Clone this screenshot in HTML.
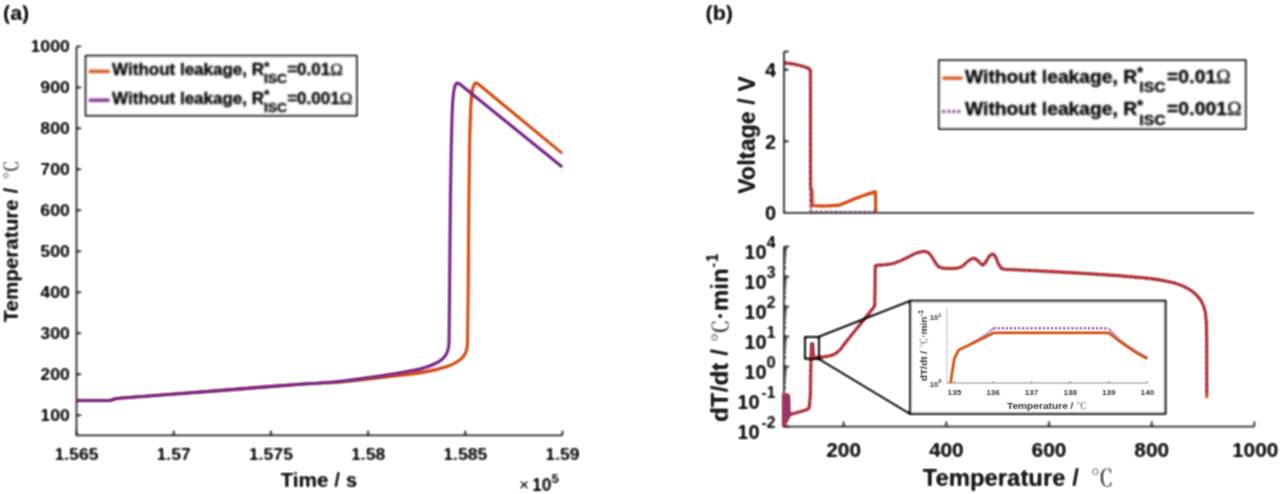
<!DOCTYPE html>
<html lang="en"><head><meta charset="utf-8"><title>Figure</title>
<style>html,body{margin:0;padding:0;background:#fff;}body{width:1280px;height:494px;overflow:hidden;}svg{display:block;}</style>
</head><body>
<svg width="1280" height="494" viewBox="0 0 1280 494">
<defs><filter id="b" x="-1%" y="-1%" width="102%" height="102%" color-interpolation-filters="sRGB"><feGaussianBlur stdDeviation="0.85"/><feComponentTransfer><feFuncA type="linear" slope="1.4" intercept="-0.1"/></feComponentTransfer></filter><filter id="b3" x="-1%" y="-1%" width="102%" height="102%" color-interpolation-filters="sRGB"><feConvolveMatrix order="3" kernelMatrix="0.04 0.12 0.04 0.12 0.36 0.12 0.04 0.12 0.04" divisor="1" edgeMode="none" preserveAlpha="false"/></filter><filter id="b2" x="-2%" y="-5%" width="104%" height="110%" color-interpolation-filters="sRGB"><feGaussianBlur stdDeviation="0.8"/></filter></defs>
<rect x="0" y="0" width="1280" height="494" fill="#ffffff"/>
<g filter="url(#b)">
<g id="panel-a">
<text transform="translate(3,19.5) scale(1.05,1)" font-size="20.5" font-family="Liberation Sans, Arial, sans-serif" font-weight="bold" fill="#262626">(a)</text>
<path d="M76.5,46.4 V435.3 H562.5" fill="none" stroke="#3a3a3a" stroke-width="1.8"/>
<line x1="76.5" y1="415.2" x2="81.5" y2="415.2" stroke="#3a3a3a" stroke-width="1.8"/>
<text transform="translate(69.8,421.0) scale(1.04,1)" font-size="17" text-anchor="end" font-family="Liberation Sans, Arial, sans-serif" font-weight="bold" fill="#262626">100</text>
<line x1="76.5" y1="374.2" x2="81.5" y2="374.2" stroke="#3a3a3a" stroke-width="1.8"/>
<text transform="translate(69.8,380.0) scale(1.04,1)" font-size="17" text-anchor="end" font-family="Liberation Sans, Arial, sans-serif" font-weight="bold" fill="#262626">200</text>
<line x1="76.5" y1="333.2" x2="81.5" y2="333.2" stroke="#3a3a3a" stroke-width="1.8"/>
<text transform="translate(69.8,339.0) scale(1.04,1)" font-size="17" text-anchor="end" font-family="Liberation Sans, Arial, sans-serif" font-weight="bold" fill="#262626">300</text>
<line x1="76.5" y1="292.3" x2="81.5" y2="292.3" stroke="#3a3a3a" stroke-width="1.8"/>
<text transform="translate(69.8,298.1) scale(1.04,1)" font-size="17" text-anchor="end" font-family="Liberation Sans, Arial, sans-serif" font-weight="bold" fill="#262626">400</text>
<line x1="76.5" y1="251.3" x2="81.5" y2="251.3" stroke="#3a3a3a" stroke-width="1.8"/>
<text transform="translate(69.8,257.1) scale(1.04,1)" font-size="17" text-anchor="end" font-family="Liberation Sans, Arial, sans-serif" font-weight="bold" fill="#262626">500</text>
<line x1="76.5" y1="210.3" x2="81.5" y2="210.3" stroke="#3a3a3a" stroke-width="1.8"/>
<text transform="translate(69.8,216.1) scale(1.04,1)" font-size="17" text-anchor="end" font-family="Liberation Sans, Arial, sans-serif" font-weight="bold" fill="#262626">600</text>
<line x1="76.5" y1="169.3" x2="81.5" y2="169.3" stroke="#3a3a3a" stroke-width="1.8"/>
<text transform="translate(69.8,175.1) scale(1.04,1)" font-size="17" text-anchor="end" font-family="Liberation Sans, Arial, sans-serif" font-weight="bold" fill="#262626">700</text>
<line x1="76.5" y1="128.3" x2="81.5" y2="128.3" stroke="#3a3a3a" stroke-width="1.8"/>
<text transform="translate(69.8,134.1) scale(1.04,1)" font-size="17" text-anchor="end" font-family="Liberation Sans, Arial, sans-serif" font-weight="bold" fill="#262626">800</text>
<line x1="76.5" y1="87.4" x2="81.5" y2="87.4" stroke="#3a3a3a" stroke-width="1.8"/>
<text transform="translate(69.8,93.2) scale(1.04,1)" font-size="17" text-anchor="end" font-family="Liberation Sans, Arial, sans-serif" font-weight="bold" fill="#262626">900</text>
<line x1="76.5" y1="46.4" x2="81.5" y2="46.4" stroke="#3a3a3a" stroke-width="1.8"/>
<text transform="translate(69.8,52.2) scale(1.04,1)" font-size="17" text-anchor="end" font-family="Liberation Sans, Arial, sans-serif" font-weight="bold" fill="#262626">1000</text>
<line x1="76.5" y1="435.3" x2="76.5" y2="430.3" stroke="#3a3a3a" stroke-width="1.8"/>
<text transform="translate(76.5,460.4) scale(1.04,1)" font-size="17" text-anchor="middle" font-family="Liberation Sans, Arial, sans-serif" font-weight="bold" fill="#262626">1.565</text>
<line x1="173.7" y1="435.3" x2="173.7" y2="430.3" stroke="#3a3a3a" stroke-width="1.8"/>
<text transform="translate(173.7,460.4) scale(1.04,1)" font-size="17" text-anchor="middle" font-family="Liberation Sans, Arial, sans-serif" font-weight="bold" fill="#262626">1.57</text>
<line x1="270.9" y1="435.3" x2="270.9" y2="430.3" stroke="#3a3a3a" stroke-width="1.8"/>
<text transform="translate(270.9,460.4) scale(1.04,1)" font-size="17" text-anchor="middle" font-family="Liberation Sans, Arial, sans-serif" font-weight="bold" fill="#262626">1.575</text>
<line x1="368.1" y1="435.3" x2="368.1" y2="430.3" stroke="#3a3a3a" stroke-width="1.8"/>
<text transform="translate(368.1,460.4) scale(1.04,1)" font-size="17" text-anchor="middle" font-family="Liberation Sans, Arial, sans-serif" font-weight="bold" fill="#262626">1.58</text>
<line x1="465.3" y1="435.3" x2="465.3" y2="430.3" stroke="#3a3a3a" stroke-width="1.8"/>
<text transform="translate(465.3,460.4) scale(1.04,1)" font-size="17" text-anchor="middle" font-family="Liberation Sans, Arial, sans-serif" font-weight="bold" fill="#262626">1.585</text>
<line x1="562.5" y1="435.3" x2="562.5" y2="430.3" stroke="#3a3a3a" stroke-width="1.8"/>
<text transform="translate(562.5,460.4) scale(1.04,1)" font-size="17" text-anchor="middle" font-family="Liberation Sans, Arial, sans-serif" font-weight="bold" fill="#262626">1.59</text>
<text transform="translate(318.9,487.3) scale(1.04,1)" font-size="20" text-anchor="middle" font-family="Liberation Sans, Arial, sans-serif" font-weight="bold" fill="#262626">Time / s</text>
<text x="518.5" y="490.5" font-size="17.5" font-family="Liberation Sans, Arial, sans-serif" font-weight="bold" fill="#262626"><tspan font-weight="normal" font-size="19">×</tspan><tspan dx="2.5">10</tspan><tspan dy="-8" font-size="13.5">5</tspan></text>
<text transform="translate(18.3,322.5) rotate(-90) scale(1.03,1)" font-size="20" font-family="Liberation Sans, Arial, sans-serif" font-weight="bold" fill="#262626">Temperature / <tspan font-family="Noto Serif CJK SC, Liberation Serif, serif" font-weight="normal" font-size="19" dx="2.5">℃</tspan></text>
<path d="M76.50,400.60 C81.42,400.60 100.42,400.65 106.00,400.60 C111.58,400.55 108.67,400.50 110.00,400.30 C111.33,400.10 113.33,399.55 114.00,399.40 L114.00,399.40 C115.08,399.18 110.63,398.97 120.50,398.10 C130.37,397.23 148.18,396.13 173.20,394.20 C198.22,392.27 247.80,388.27 270.60,386.50 C293.40,384.73 298.43,384.35 310.00,383.60 C321.57,382.85 330.28,382.77 340.00,382.00 C349.72,381.23 358.85,380.05 368.30,379.00 C377.75,377.95 387.25,376.87 396.70,375.70 C406.15,374.53 416.52,373.55 425.00,372.00 C433.48,370.45 441.93,368.28 447.60,366.40 C453.27,364.52 456.13,362.67 459.00,360.70 C461.87,358.73 463.47,356.72 464.80,354.60 C466.13,352.48 466.53,350.98 467.00,348.00 C467.47,345.02 467.40,346.37 467.60,336.70 C467.80,327.03 467.98,312.78 468.20,290.00 C468.42,267.22 468.67,224.17 468.90,200.00 C469.13,175.83 469.32,159.73 469.60,145.00 C469.88,130.27 470.27,119.77 470.60,111.60 C470.93,103.43 471.22,99.93 471.60,96.00 C471.98,92.07 472.45,89.97 472.90,88.00 C473.35,86.03 473.80,85.05 474.30,84.20 C474.80,83.35 475.30,82.97 475.90,82.90 C476.50,82.83 477.13,83.32 477.90,83.80 C478.67,84.28 480.07,85.47 480.50,85.80 L562.4,153.5" fill="none" stroke="#D95319" stroke-width="2.8" stroke-linejoin="round" stroke-linecap="butt"/>
<path d="M76.50,400.60 C81.42,400.60 100.42,400.65 106.00,400.60 C111.58,400.55 108.67,400.50 110.00,400.30 C111.33,400.10 113.33,399.55 114.00,399.40 L114.00,399.40 C115.08,399.18 110.63,398.97 120.50,398.10 C130.37,397.23 148.18,396.13 173.20,394.20 C198.22,392.27 247.80,388.27 270.60,386.50 C293.40,384.73 298.43,384.45 310.00,383.60 C321.57,382.75 330.28,382.38 340.00,381.40 C349.72,380.42 358.85,379.02 368.30,377.70 C377.75,376.38 388.20,374.92 396.70,373.50 C405.20,372.08 413.17,370.72 419.30,369.20 C425.43,367.68 429.72,366.05 433.50,364.40 C437.28,362.75 439.82,361.10 442.00,359.30 C444.18,357.50 445.50,355.72 446.60,353.60 C447.70,351.48 448.18,349.42 448.60,346.60 C449.02,343.78 448.93,346.13 449.10,336.70 C449.27,327.27 449.38,312.78 449.60,290.00 C449.82,267.22 450.12,224.17 450.40,200.00 C450.68,175.83 451.00,159.73 451.30,145.00 C451.60,130.27 451.88,119.77 452.20,111.60 C452.52,103.43 452.83,99.93 453.20,96.00 C453.57,92.07 453.98,89.97 454.40,88.00 C454.82,86.03 455.22,85.05 455.70,84.20 C456.18,83.35 456.70,82.97 457.30,82.90 C457.90,82.83 458.52,83.32 459.30,83.80 C460.08,84.28 461.55,85.47 462.00,85.80 L562.4,167.1" fill="none" stroke="#7E2F8E" stroke-width="2.8" stroke-linejoin="round" stroke-linecap="butt"/>
<rect x="85.5" y="55.6" width="271.4" height="60.2" fill="#fff" stroke="#3a3a3a" stroke-width="1.8"/>
<line x1="88.8" y1="71.4" x2="109.6" y2="71.4" stroke="#D95319" stroke-width="3.3"/>
<line x1="88.8" y1="100.2" x2="109.6" y2="100.2" stroke="#7E2F8E" stroke-width="3.3"/>
<text transform="translate(112.1,75.3) scale(1.070,1)" font-size="15.9" font-family="Liberation Sans, Arial, sans-serif" font-weight="bold" fill="#000" stroke="#000" stroke-width="0.3">Without leakage, R<tspan font-size="13.0" dy="-4.8">*</tspan><tspan font-size="13.0" dx="-5.1" dy="12.7">ISC</tspan><tspan dx="0.0" dy="-8.0" letter-spacing="0.00">=0.01</tspan><tspan font-family="Liberation Serif, serif" font-weight="normal" stroke-width="0.35">Ω</tspan></text>
<text transform="translate(112.1,104.2) scale(1.070,1)" font-size="15.9" font-family="Liberation Sans, Arial, sans-serif" font-weight="bold" fill="#000" stroke="#000" stroke-width="0.3">Without leakage, R<tspan font-size="13.0" dy="-4.8">*</tspan><tspan font-size="13.0" dx="-5.1" dy="12.7">ISC</tspan><tspan dx="0.0" dy="-8.0" letter-spacing="0.00">=0.001</tspan><tspan font-family="Liberation Serif, serif" font-weight="normal" stroke-width="0.35">Ω</tspan></text>
</g>
<g id="panel-b">
<text transform="translate(705.5,19.5) scale(1.05,1)" font-size="20.5" font-family="Liberation Sans, Arial, sans-serif" font-weight="bold" fill="#262626">(b)</text>
<path d="M784.0,51.5 V212.9 H1254.4" fill="none" stroke="#3a3a3a" stroke-width="1.8"/>
<line x1="784.0" y1="51.5" x2="789.0" y2="51.5" stroke="#3a3a3a" stroke-width="1.8"/>
<text x="776" y="220.1" font-size="20" text-anchor="end" font-family="Liberation Sans, Arial, sans-serif" font-weight="bold" fill="#262626">0</text>
<line x1="784.0" y1="141.3" x2="789.0" y2="141.3" stroke="#3a3a3a" stroke-width="1.8"/>
<text x="776" y="148.5" font-size="20" text-anchor="end" font-family="Liberation Sans, Arial, sans-serif" font-weight="bold" fill="#262626">2</text>
<line x1="784.0" y1="69.7" x2="789.0" y2="69.7" stroke="#3a3a3a" stroke-width="1.8"/>
<text x="776" y="76.9" font-size="20" text-anchor="end" font-family="Liberation Sans, Arial, sans-serif" font-weight="bold" fill="#262626">4</text>
<text transform="translate(755.0,194) rotate(-90)" font-size="23.4" font-family="Liberation Sans, Arial, sans-serif" font-weight="bold" fill="#262626">Voltage / V</text>
<g>
<polyline points="784.0,62.7 795.0,64.3 804.0,66.6 809.3,68.6 810.4,70.5 810.6,188.0 811.9,190.0 812.1,204.0 813.0,205.6 820.0,206.0 830.0,205.8 839.3,205.2 845.0,202.8 855.0,198.6 865.0,195.0 875.5,191.6 875.7,212.9" fill="none" stroke="#D95319" stroke-width="2.9" stroke-linejoin="round"/>
<polyline points="784.0,62.7 795.0,64.3 804.0,66.6 809.3,68.6 810.4,70.5 810.6,211.0" fill="none" stroke="#B22C48" stroke-width="2.2" stroke-linejoin="round" opacity="0.42"/>
<polyline points="784.0,62.7 795.0,64.3 804.0,66.6 809.3,68.6 810.4,70.5 810.6,211.0" fill="none" stroke="#7E2F8E" stroke-width="2.4" stroke-dasharray="2.8 2.8" stroke-linejoin="round" opacity="0.7"/>
<polyline points="810.6,211.0 875.7,211.3" fill="none" stroke="#7E2F8E" stroke-width="2" stroke-dasharray="2.4 2.4" stroke-linejoin="round" opacity="0.55"/>
</g>
<rect x="938.8" y="60.1" width="307" height="69" fill="#fff" stroke="#3a3a3a" stroke-width="1.8"/>
<line x1="942.5" y1="78.2" x2="962.6" y2="78.2" stroke="#D95319" stroke-width="3.3"/>
<line x1="942.5" y1="111.5" x2="962.6" y2="111.5" stroke="#7E2F8E" stroke-width="2.8" stroke-dasharray="2.6 2.4"/>
<text transform="translate(965.1,82.8) scale(1.058,1)" font-size="18.2" font-family="Liberation Sans, Arial, sans-serif" font-weight="bold" fill="#000" stroke="#000" stroke-width="0.3">Without leakage, R<tspan font-size="14.9" dy="-5.5">*</tspan><tspan font-size="14.9" dx="-3.6" dy="14.6">ISC</tspan><tspan dx="1.2" dy="-9.1" letter-spacing="0.15">=0.01</tspan><tspan font-family="Liberation Serif, serif" font-weight="normal" stroke-width="0.35">Ω</tspan></text>
<text transform="translate(965.1,115.4) scale(1.058,1)" font-size="18.2" font-family="Liberation Sans, Arial, sans-serif" font-weight="bold" fill="#000" stroke="#000" stroke-width="0.3">Without leakage, R<tspan font-size="14.9" dy="-5.5">*</tspan><tspan font-size="14.9" dx="-3.6" dy="14.6">ISC</tspan><tspan dx="1.2" dy="-9.1" letter-spacing="0.15">=0.001</tspan><tspan font-family="Liberation Serif, serif" font-weight="normal" stroke-width="0.35">Ω</tspan></text>
<path d="M784.0,246.6 V426.6 H1254.4" fill="none" stroke="#3a3a3a" stroke-width="1.8"/>
<line x1="784.0" y1="426.6" x2="789.5" y2="426.6" stroke="#3a3a3a" stroke-width="1.8"/>
<text x="775.8" y="439.0" font-size="20" text-anchor="end" font-family="Liberation Sans, Arial, sans-serif" font-weight="bold" fill="#262626">10<tspan font-size="16.5" dy="-10.9" dx="1.6">-2</tspan></text>
<line x1="784.0" y1="417.6" x2="787.0" y2="417.6" stroke="#3a3a3a" stroke-width="1"/>
<line x1="784.0" y1="412.3" x2="787.0" y2="412.3" stroke="#3a3a3a" stroke-width="1"/>
<line x1="784.0" y1="408.5" x2="787.0" y2="408.5" stroke="#3a3a3a" stroke-width="1"/>
<line x1="784.0" y1="405.6" x2="787.0" y2="405.6" stroke="#3a3a3a" stroke-width="1"/>
<line x1="784.0" y1="403.3" x2="787.0" y2="403.3" stroke="#3a3a3a" stroke-width="1"/>
<line x1="784.0" y1="401.2" x2="787.0" y2="401.2" stroke="#3a3a3a" stroke-width="1"/>
<line x1="784.0" y1="399.5" x2="787.0" y2="399.5" stroke="#3a3a3a" stroke-width="1"/>
<line x1="784.0" y1="398.0" x2="787.0" y2="398.0" stroke="#3a3a3a" stroke-width="1"/>
<line x1="784.0" y1="396.6" x2="789.5" y2="396.6" stroke="#3a3a3a" stroke-width="1.8"/>
<text x="775.8" y="409.0" font-size="20" text-anchor="end" font-family="Liberation Sans, Arial, sans-serif" font-weight="bold" fill="#262626">10<tspan font-size="16.5" dy="-10.9" dx="1.6">-1</tspan></text>
<line x1="784.0" y1="387.6" x2="787.0" y2="387.6" stroke="#3a3a3a" stroke-width="1"/>
<line x1="784.0" y1="382.3" x2="787.0" y2="382.3" stroke="#3a3a3a" stroke-width="1"/>
<line x1="784.0" y1="378.5" x2="787.0" y2="378.5" stroke="#3a3a3a" stroke-width="1"/>
<line x1="784.0" y1="375.6" x2="787.0" y2="375.6" stroke="#3a3a3a" stroke-width="1"/>
<line x1="784.0" y1="373.3" x2="787.0" y2="373.3" stroke="#3a3a3a" stroke-width="1"/>
<line x1="784.0" y1="371.2" x2="787.0" y2="371.2" stroke="#3a3a3a" stroke-width="1"/>
<line x1="784.0" y1="369.5" x2="787.0" y2="369.5" stroke="#3a3a3a" stroke-width="1"/>
<line x1="784.0" y1="368.0" x2="787.0" y2="368.0" stroke="#3a3a3a" stroke-width="1"/>
<line x1="784.0" y1="366.6" x2="789.5" y2="366.6" stroke="#3a3a3a" stroke-width="1.8"/>
<text x="775.8" y="379.0" font-size="20" text-anchor="end" font-family="Liberation Sans, Arial, sans-serif" font-weight="bold" fill="#262626">10<tspan font-size="16.5" dy="-10.9" dx="0">0</tspan></text>
<line x1="784.0" y1="357.6" x2="787.0" y2="357.6" stroke="#3a3a3a" stroke-width="1"/>
<line x1="784.0" y1="352.3" x2="787.0" y2="352.3" stroke="#3a3a3a" stroke-width="1"/>
<line x1="784.0" y1="348.5" x2="787.0" y2="348.5" stroke="#3a3a3a" stroke-width="1"/>
<line x1="784.0" y1="345.6" x2="787.0" y2="345.6" stroke="#3a3a3a" stroke-width="1"/>
<line x1="784.0" y1="343.3" x2="787.0" y2="343.3" stroke="#3a3a3a" stroke-width="1"/>
<line x1="784.0" y1="341.2" x2="787.0" y2="341.2" stroke="#3a3a3a" stroke-width="1"/>
<line x1="784.0" y1="339.5" x2="787.0" y2="339.5" stroke="#3a3a3a" stroke-width="1"/>
<line x1="784.0" y1="338.0" x2="787.0" y2="338.0" stroke="#3a3a3a" stroke-width="1"/>
<line x1="784.0" y1="336.6" x2="789.5" y2="336.6" stroke="#3a3a3a" stroke-width="1.8"/>
<text x="775.8" y="349.0" font-size="20" text-anchor="end" font-family="Liberation Sans, Arial, sans-serif" font-weight="bold" fill="#262626">10<tspan font-size="16.5" dy="-10.9" dx="0">1</tspan></text>
<line x1="784.0" y1="327.6" x2="787.0" y2="327.6" stroke="#3a3a3a" stroke-width="1"/>
<line x1="784.0" y1="322.3" x2="787.0" y2="322.3" stroke="#3a3a3a" stroke-width="1"/>
<line x1="784.0" y1="318.5" x2="787.0" y2="318.5" stroke="#3a3a3a" stroke-width="1"/>
<line x1="784.0" y1="315.6" x2="787.0" y2="315.6" stroke="#3a3a3a" stroke-width="1"/>
<line x1="784.0" y1="313.3" x2="787.0" y2="313.3" stroke="#3a3a3a" stroke-width="1"/>
<line x1="784.0" y1="311.2" x2="787.0" y2="311.2" stroke="#3a3a3a" stroke-width="1"/>
<line x1="784.0" y1="309.5" x2="787.0" y2="309.5" stroke="#3a3a3a" stroke-width="1"/>
<line x1="784.0" y1="308.0" x2="787.0" y2="308.0" stroke="#3a3a3a" stroke-width="1"/>
<line x1="784.0" y1="306.6" x2="789.5" y2="306.6" stroke="#3a3a3a" stroke-width="1.8"/>
<text x="775.8" y="319.0" font-size="20" text-anchor="end" font-family="Liberation Sans, Arial, sans-serif" font-weight="bold" fill="#262626">10<tspan font-size="16.5" dy="-10.9" dx="0">2</tspan></text>
<line x1="784.0" y1="297.6" x2="787.0" y2="297.6" stroke="#3a3a3a" stroke-width="1"/>
<line x1="784.0" y1="292.3" x2="787.0" y2="292.3" stroke="#3a3a3a" stroke-width="1"/>
<line x1="784.0" y1="288.5" x2="787.0" y2="288.5" stroke="#3a3a3a" stroke-width="1"/>
<line x1="784.0" y1="285.6" x2="787.0" y2="285.6" stroke="#3a3a3a" stroke-width="1"/>
<line x1="784.0" y1="283.3" x2="787.0" y2="283.3" stroke="#3a3a3a" stroke-width="1"/>
<line x1="784.0" y1="281.2" x2="787.0" y2="281.2" stroke="#3a3a3a" stroke-width="1"/>
<line x1="784.0" y1="279.5" x2="787.0" y2="279.5" stroke="#3a3a3a" stroke-width="1"/>
<line x1="784.0" y1="278.0" x2="787.0" y2="278.0" stroke="#3a3a3a" stroke-width="1"/>
<line x1="784.0" y1="276.6" x2="789.5" y2="276.6" stroke="#3a3a3a" stroke-width="1.8"/>
<text x="775.8" y="289.0" font-size="20" text-anchor="end" font-family="Liberation Sans, Arial, sans-serif" font-weight="bold" fill="#262626">10<tspan font-size="16.5" dy="-10.9" dx="0">3</tspan></text>
<line x1="784.0" y1="267.6" x2="787.0" y2="267.6" stroke="#3a3a3a" stroke-width="1"/>
<line x1="784.0" y1="262.3" x2="787.0" y2="262.3" stroke="#3a3a3a" stroke-width="1"/>
<line x1="784.0" y1="258.5" x2="787.0" y2="258.5" stroke="#3a3a3a" stroke-width="1"/>
<line x1="784.0" y1="255.6" x2="787.0" y2="255.6" stroke="#3a3a3a" stroke-width="1"/>
<line x1="784.0" y1="253.3" x2="787.0" y2="253.3" stroke="#3a3a3a" stroke-width="1"/>
<line x1="784.0" y1="251.2" x2="787.0" y2="251.2" stroke="#3a3a3a" stroke-width="1"/>
<line x1="784.0" y1="249.5" x2="787.0" y2="249.5" stroke="#3a3a3a" stroke-width="1"/>
<line x1="784.0" y1="248.0" x2="787.0" y2="248.0" stroke="#3a3a3a" stroke-width="1"/>
<line x1="784.0" y1="246.6" x2="789.5" y2="246.6" stroke="#3a3a3a" stroke-width="1.8"/>
<text x="775.8" y="259.0" font-size="20" text-anchor="end" font-family="Liberation Sans, Arial, sans-serif" font-weight="bold" fill="#262626">10<tspan font-size="16.5" dy="-10.9" dx="0">4</tspan></text>
<line x1="843.6" y1="426.6" x2="843.6" y2="421.1" stroke="#3a3a3a" stroke-width="1.8"/>
<text transform="translate(843.6,457) scale(1.045,1)" font-size="20" text-anchor="middle" font-family="Liberation Sans, Arial, sans-serif" font-weight="bold" fill="#262626">200</text>
<line x1="946.3" y1="426.6" x2="946.3" y2="421.1" stroke="#3a3a3a" stroke-width="1.8"/>
<text transform="translate(946.3,457) scale(1.045,1)" font-size="20" text-anchor="middle" font-family="Liberation Sans, Arial, sans-serif" font-weight="bold" fill="#262626">400</text>
<line x1="1049.0" y1="426.6" x2="1049.0" y2="421.1" stroke="#3a3a3a" stroke-width="1.8"/>
<text transform="translate(1049.0,457) scale(1.045,1)" font-size="20" text-anchor="middle" font-family="Liberation Sans, Arial, sans-serif" font-weight="bold" fill="#262626">600</text>
<line x1="1151.7" y1="426.6" x2="1151.7" y2="421.1" stroke="#3a3a3a" stroke-width="1.8"/>
<text transform="translate(1151.7,457) scale(1.045,1)" font-size="20" text-anchor="middle" font-family="Liberation Sans, Arial, sans-serif" font-weight="bold" fill="#262626">800</text>
<line x1="1254.4" y1="426.6" x2="1254.4" y2="421.1" stroke="#3a3a3a" stroke-width="1.8"/>
<text transform="translate(1255.2,457) scale(1.045,1)" font-size="20" text-anchor="middle" font-family="Liberation Sans, Arial, sans-serif" font-weight="bold" fill="#262626">1000</text>
<text x="922.6" y="486.4" font-size="23.9" font-family="Liberation Sans, Arial, sans-serif" font-weight="bold" fill="#262626">Temperature / <tspan font-family="Noto Serif CJK SC, Liberation Serif, serif" font-weight="normal" font-size="23" dx="5">℃</tspan></text>
<text transform="translate(727.6,422) rotate(-90) scale(1.04,1)" font-size="23.4" font-family="Liberation Sans, Arial, sans-serif" font-weight="bold" fill="#262626">dT/dt / <tspan font-family="Noto Serif CJK SC, Liberation Serif, serif" font-weight="normal" font-size="22">℃</tspan>·min<tspan font-size="16" dy="-10">-1</tspan></text>
<g>
<polyline points="783.5,426.6 783.4,394.5 784.0,426.0 784.7,395.7 785.3,423.5 786.0,396.9 786.6,421.1 787.3,394.5 787.9,418.6 788.6,395.7 789.2,416.1 789.6,414.7 795.0,413.2 802.0,411.2 807.0,409.6 809.3,407.8 810.3,395.0 811.0,360.0 811.6,343.6 812.2,350.0 812.6,343.5 813.1,352.0 813.6,357.8 815.0,357.9 819.0,357.6 827.4,356.3 833.0,355.0 837.1,352.5 840.6,349.3 843.6,345.0 851.0,335.7 859.8,324.8 866.0,317.0 872.7,308.6 874.7,306.0 875.0,290.0 875.2,266.0 876.5,265.3 885.0,264.8 893.0,263.6 900.0,261.0 908.0,257.2 914.0,254.0 919.0,252.2 924.3,251.4 927.4,252.0 930.3,254.5 933.2,259.0 936.2,264.0 939.2,267.2 943.5,268.3 952.0,268.5 958.5,268.0 962.0,266.5 966.0,263.0 970.0,259.5 973.6,258.2 976.5,259.3 979.5,262.5 982.4,265.2 985.0,263.5 987.5,259.0 990.0,255.2 992.4,253.9 994.5,255.0 996.5,259.0 998.5,264.0 1001.2,268.4 1005.0,269.4 1020.0,270.0 1050.0,271.5 1085.5,273.5 1120.0,275.8 1148.3,278.3 1162.0,280.3 1173.4,282.7 1183.0,286.0 1190.9,290.3 1196.5,295.0 1201.0,300.5 1203.8,306.5 1205.5,313.0 1206.3,322.0 1206.7,340.0 1206.8,398.0" fill="none" stroke="#D95319" stroke-width="2.9" stroke-linejoin="round"/>
<polyline points="783.5,426.6 783.4,394.5 784.0,426.0 784.7,395.7 785.3,423.5 786.0,396.9 786.6,421.1 787.3,394.5 787.9,418.6 788.6,395.7 789.2,416.1 789.6,414.7 795.0,413.2 802.0,411.2 807.0,409.6 809.3,407.8 810.3,395.0 811.0,360.0 811.6,343.6 812.2,350.0 812.6,343.5 813.1,352.0 813.6,357.8 815.0,357.9 819.0,357.6 827.4,356.3 833.0,355.0 837.1,352.5 840.6,349.3 843.6,345.0 851.0,335.7 859.8,324.8 866.0,317.0 872.7,308.6 874.7,306.0 875.0,290.0 875.2,266.0 876.5,265.3 885.0,264.8 893.0,263.6 900.0,261.0 908.0,257.2 914.0,254.0 919.0,252.2 924.3,251.4 927.4,252.0 930.3,254.5 933.2,259.0 936.2,264.0 939.2,267.2 943.5,268.3 952.0,268.5 958.5,268.0 962.0,266.5 966.0,263.0 970.0,259.5 973.6,258.2 976.5,259.3 979.5,262.5 982.4,265.2 985.0,263.5 987.5,259.0 990.0,255.2 992.4,253.9 994.5,255.0 996.5,259.0 998.5,264.0 1001.2,268.4 1005.0,269.4 1020.0,270.0 1050.0,271.5 1085.5,273.5 1120.0,275.8 1148.3,278.3 1162.0,280.3 1173.4,282.7 1183.0,286.0 1190.9,290.3 1196.5,295.0 1201.0,300.5 1203.8,306.5 1205.5,313.0 1206.3,322.0 1206.7,340.0 1206.8,393.0" fill="none" stroke="#B22C48" stroke-width="2.2" stroke-linejoin="round" opacity="0.42"/>
<polyline points="783.5,426.6 783.4,394.5 784.0,426.0 784.7,395.7 785.3,423.5 786.0,396.9 786.6,421.1 787.3,394.5 787.9,418.6 788.6,395.7 789.2,416.1 789.6,414.7 795.0,413.2 802.0,411.2 807.0,409.6 809.3,407.8 810.3,395.0 811.0,360.0 811.6,343.6 812.2,350.0 812.6,343.5 813.1,352.0 813.6,357.8 815.0,357.9 819.0,357.6 827.4,356.3 833.0,355.0 837.1,352.5 840.6,349.3 843.6,345.0 851.0,335.7 859.8,324.8 866.0,317.0 872.7,308.6 874.7,306.0 875.0,290.0 875.2,266.0 876.5,265.3 885.0,264.8 893.0,263.6 900.0,261.0 908.0,257.2 914.0,254.0 919.0,252.2 924.3,251.4 927.4,252.0 930.3,254.5 933.2,259.0 936.2,264.0 939.2,267.2 943.5,268.3 952.0,268.5 958.5,268.0 962.0,266.5 966.0,263.0 970.0,259.5 973.6,258.2 976.5,259.3 979.5,262.5 982.4,265.2 985.0,263.5 987.5,259.0 990.0,255.2 992.4,253.9 994.5,255.0 996.5,259.0 998.5,264.0 1001.2,268.4 1005.0,269.4 1020.0,270.0 1050.0,271.5 1085.5,273.5 1120.0,275.8 1148.3,278.3 1162.0,280.3 1173.4,282.7 1183.0,286.0 1190.9,290.3 1196.5,295.0 1201.0,300.5 1203.8,306.5 1205.5,313.0 1206.3,322.0 1206.7,340.0 1206.8,392.0" fill="none" stroke="#7E2F8E" stroke-width="2.2" stroke-dasharray="2.8 2.8" stroke-linejoin="round" opacity="0.8"/>
</g>
<rect x="805" y="337" width="14" height="21.8" fill="none" stroke="#000" stroke-width="1.8"/>
<line x1="819" y1="336.6" x2="910.1" y2="300.9" stroke="#000" stroke-width="1.8"/>
<line x1="818" y1="358.6" x2="910.1" y2="413.9" stroke="#000" stroke-width="1.8"/>
<rect x="910.1" y="300.7" width="255.5" height="113.2" fill="#fff" stroke="#151515" stroke-width="1.8"/>
</g></g>
<g filter="url(#b3)" id="inset">
<path d="M946.8,307.6 V383" fill="none" stroke="#b5b5b5" stroke-width="0.8"/>
<path d="M946.8,383 H1147.3" fill="none" stroke="#7a7a7a" stroke-width="0.9"/>
<line x1="954.4" y1="383" x2="954.4" y2="380.8" stroke="#7a7a7a" stroke-width="0.8"/>
<text transform="translate(954.4,395.2) scale(1.06,1)" font-size="7.7" text-anchor="middle" font-family="Liberation Sans, Arial, sans-serif" font-weight="bold" fill="#333">135</text>
<line x1="993.0" y1="383" x2="993.0" y2="380.8" stroke="#7a7a7a" stroke-width="0.8"/>
<text transform="translate(993.0,395.2) scale(1.06,1)" font-size="7.7" text-anchor="middle" font-family="Liberation Sans, Arial, sans-serif" font-weight="bold" fill="#333">136</text>
<line x1="1031.6" y1="383" x2="1031.6" y2="380.8" stroke="#7a7a7a" stroke-width="0.8"/>
<text transform="translate(1031.6,395.2) scale(1.06,1)" font-size="7.7" text-anchor="middle" font-family="Liberation Sans, Arial, sans-serif" font-weight="bold" fill="#333">137</text>
<line x1="1070.2" y1="383" x2="1070.2" y2="380.8" stroke="#7a7a7a" stroke-width="0.8"/>
<text transform="translate(1070.2,395.2) scale(1.06,1)" font-size="7.7" text-anchor="middle" font-family="Liberation Sans, Arial, sans-serif" font-weight="bold" fill="#333">138</text>
<line x1="1108.8" y1="383" x2="1108.8" y2="380.8" stroke="#7a7a7a" stroke-width="0.8"/>
<text transform="translate(1108.8,395.2) scale(1.06,1)" font-size="7.7" text-anchor="middle" font-family="Liberation Sans, Arial, sans-serif" font-weight="bold" fill="#333">139</text>
<line x1="1147.4" y1="383" x2="1147.4" y2="380.8" stroke="#7a7a7a" stroke-width="0.8"/>
<text transform="translate(1147.4,395.2) scale(1.06,1)" font-size="7.7" text-anchor="middle" font-family="Liberation Sans, Arial, sans-serif" font-weight="bold" fill="#333">140</text>
<line x1="946.8" y1="363.0" x2="948.3" y2="363.0" stroke="#aaa" stroke-width="0.6"/>
<line x1="946.8" y1="351.3" x2="948.3" y2="351.3" stroke="#aaa" stroke-width="0.6"/>
<line x1="946.8" y1="343.0" x2="948.3" y2="343.0" stroke="#aaa" stroke-width="0.6"/>
<line x1="946.8" y1="336.5" x2="948.3" y2="336.5" stroke="#aaa" stroke-width="0.6"/>
<line x1="946.8" y1="331.3" x2="948.3" y2="331.3" stroke="#aaa" stroke-width="0.6"/>
<line x1="946.8" y1="326.8" x2="948.3" y2="326.8" stroke="#aaa" stroke-width="0.6"/>
<line x1="946.8" y1="322.9" x2="948.3" y2="322.9" stroke="#aaa" stroke-width="0.6"/>
<line x1="946.8" y1="319.5" x2="948.3" y2="319.5" stroke="#aaa" stroke-width="0.6"/>
<text x="929.8" y="320.3" font-size="7.7" font-family="Liberation Sans, Arial, sans-serif" font-weight="bold" fill="#333">10<tspan font-size="5.8" dy="-3.4">1</tspan></text>
<text x="929.8" y="386.8" font-size="7.7" font-family="Liberation Sans, Arial, sans-serif" font-weight="bold" fill="#333">10<tspan font-size="5.8" dy="-3.4">0</tspan></text>
<text transform="translate(1046.7,408.8) scale(1.13,1)" font-size="9" text-anchor="middle" font-family="Liberation Sans, Arial, sans-serif" font-weight="bold" fill="#333">Temperature / <tspan font-family="Noto Serif CJK SC, Liberation Serif, serif" font-weight="normal">℃</tspan></text>
<text transform="translate(926.6,345.6) rotate(-90) scale(1.13,1)" font-size="9" text-anchor="middle" font-family="Liberation Sans, Arial, sans-serif" font-weight="bold" fill="#333">dT/dt / <tspan font-family="Noto Serif CJK SC, Liberation Serif, serif" font-weight="normal">℃</tspan>·min<tspan font-size="6.5" dy="-3.6">-1</tspan></text>
<polyline points="970.0,344.0 980.0,338.5 988.0,333.0 993.6,328.2" fill="none" stroke="#b79ad6" stroke-width="2.2" stroke-linejoin="round"/>
<polyline points="1108.6,328.2 1113.0,333.0 1118.0,338.6 1127.6,345.6 1137.0,351.8 1147.3,357.5" fill="none" stroke="#b79ad6" stroke-width="2.2" stroke-linejoin="round"/>
<line x1="993.6" y1="328.2" x2="1108.6" y2="328.2" stroke="#7E2F8E" stroke-width="2" stroke-dasharray="2 2.1"/>
<polyline points="950.6,383.0 952.5,370.0 954.4,358.2 958.7,350.1 973.3,343.1 993.6,332.9 1108.6,332.9 1118.0,340.0 1127.6,346.8 1137.0,353.0 1147.3,358.7" fill="none" stroke="#D95319" stroke-width="2.8" stroke-linejoin="round"/>
</g>
</svg></body></html>
